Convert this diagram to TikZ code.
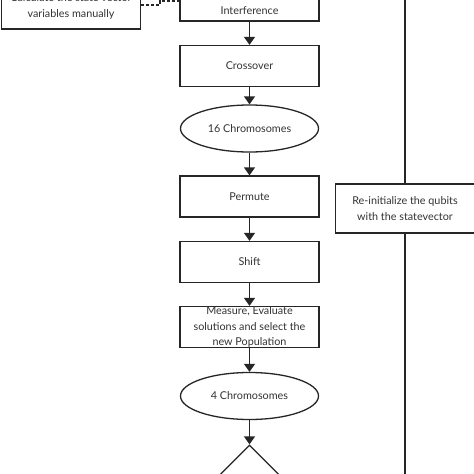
\documentclass[tikz,border=0pt]{standalone}
\usepackage{fontspec}
\setmainfont{Lato}
\usetikzlibrary{shapes.geometric,arrows.meta}
\begin{document}
\begin{tikzpicture}[x=1pt,y=-1pt,
  every node/.style={font=\fontsize{10.8}{15.5}\selectfont, text=black!80},
  proc/.style={draw=black!85, line width=1.3pt, rectangle, minimum width=139pt, minimum height=41pt, inner sep=0pt, align=center, fill=white},
  oval/.style={draw=black!85, line width=1.3pt, ellipse, minimum width=138pt, minimum height=47pt, inner sep=0pt, align=center},
  dec/.style={draw=black!85, line width=1.3pt, diamond, minimum width=80pt, minimum height=80pt, inner sep=0pt},
  flow/.style={draw=black!85, line width=1.3pt, -{Triangle[width=11pt,length=8pt]}},
  plain/.style={draw=black!85, line width=1.3pt},
  dashedline/.style={draw=black!85, line width=1.3pt, dash pattern=on 3pt off 2pt}]
\clip (0,0) rectangle (474,474);
\fill[white] (0,0) rectangle (474,474);
\node[proc, minimum height=45pt] (calc) at (71,6.5) {Calculate the state vector\\variables manually};
\node[proc, minimum height=39pt] (interf) at (249.5,1.5) {\strut\\Interference};
\node[proc] (cross) at (249.5,66) {Crossover};
\node[oval] (c16) at (249.5,128.5) {16 Chromosomes};
\node[proc] (perm) at (249.5,196.5) {Permute};
\node[proc] (shift) at (249.5,262) {Shift};
\node[proc] (meas) at (249.5,327) {Measure, Evaluate\\solutions and select the\\new Population};
\node[oval] (c4) at (249.5,396) {4 Chromosomes};
\node[dec] (d) at (249.5,485) {};
\node[proc, minimum height=49pt] (reinit) at (405,208.5) {Re-initialize the qubits\\with the statevector};
\coordinate (rtop) at (405,-5);
\coordinate (rbot) at (405,480);
\coordinate (k1) at (160,5);
\coordinate (k2) at (160,1);
\coordinate (k3) at (180,1);
\draw[flow] (interf) -- (cross);
\draw[flow] (cross) -- (c16);
\draw[flow] (c16) -- (perm);
\draw[flow] (perm) -- (shift);
\draw[flow] (shift) -- (meas);
\draw[flow] (meas) -- (c4);
\draw[flow] (c4) -- (d.north);
\draw[plain] (rtop) -- (reinit.north);
\draw[plain] (reinit.south) -- (rbot);
\draw[dashedline] (calc.east |- k1) -- (k1) -- (k2) -- (k3);
\end{tikzpicture}
\end{document}
